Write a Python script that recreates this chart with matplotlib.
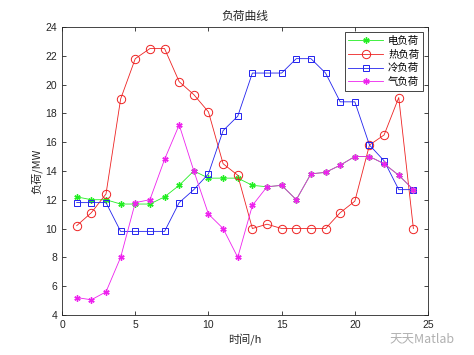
import matplotlib
matplotlib.use("Agg")
import matplotlib.pyplot as plt

plt.rcParams['font.family'] = ['Noto Sans CJK SC', 'DejaVu Sans']

hours = list(range(1, 25))
elec = [12.2, 12.0, 12.0, 11.7, 11.7, 11.7, 12.2, 13.0, 14.0, 13.5, 13.5, 13.5,
        13.0, 12.9, 13.0, 12.0, 13.8, 13.9, 14.4, 15.0, 15.0, 14.5, 13.7, 12.7]
heat = [10.2, 11.1, 12.4, 19.0, 21.8, 22.5, 22.5, 20.2, 19.3, 18.1, 14.5, 13.7,
        10.0, 10.3, 10.0, 10.0, 10.0, 10.0, 11.1, 11.9, 15.8, 16.5, 19.1, 10.0]
cold = [11.8, 11.8, 11.8, 9.8, 9.8, 9.8, 9.8, 11.8, 12.7, 13.8, 16.8, 17.8,
        20.8, 20.8, 20.8, 21.8, 21.8, 20.8, 18.8, 18.8, 15.8, 14.7, 12.7, 12.7]
gas = [5.2, 5.05, 5.6, 8.0, 11.8, 12.0, 14.8, 17.2, 14.0, 11.0, 10.0, 8.0,
       11.6, 12.9, 13.0, 12.0, 13.8, 13.9, 14.4, 15.0, 15.0, 14.5, 13.7, 12.7]

star = (6, 2, 0)

fig = plt.figure(figsize=(4.74, 3.55), dpi=100)
ax = fig.add_axes([0.131, 0.113, 0.772, 0.811])

ax.plot(hours, elec, color='#22ee22', marker=star, ms=4.5, lw=0.6, label='电负荷')
ax.plot(hours, heat, color='#ee2222', marker='o', ms=6, mfc='none', mew=0.7, lw=0.6, label='热负荷')
ax.plot(hours, cold, color='#2222ee', marker='s', ms=4.5, mfc='none', mew=0.7, lw=0.6, label='冷负荷')
ax.plot(hours, gas, color='#ee22ee', marker=star, ms=4.5, lw=0.6, label='气负荷')

ax.set_xlim(0, 25)
ax.set_ylim(4, 24)
ax.set_xticks([0, 5, 10, 15, 20, 25])
ax.set_yticks(range(4, 25, 2))
ax.tick_params(direction='in', top=True, right=True, labelsize=7.5,
               colors='#262626', length=3, width=0.6)
for lab in ax.get_xticklabels() + ax.get_yticklabels():
    lab.set_family(['Liberation Sans', 'DejaVu Sans'])
for s in ax.spines.values():
    s.set_color('#262626')
    s.set_linewidth(0.6)

ax.set_title('负荷曲线', fontsize=8.5, color='#262626', pad=5)
ax.set_xlabel('时间/h', fontsize=8, color='#262626', labelpad=2)
ax.set_ylabel('负荷/MW', fontsize=8, color='#262626', labelpad=2)

leg = ax.legend(loc='upper right', fontsize=7.5, fancybox=False, framealpha=1,
                edgecolor='#262626', borderpad=0.35, labelspacing=0.35,
                handlelength=3.3, handletextpad=0.5, borderaxespad=0.5)
leg.get_frame().set_linewidth(0.6)

fig.text(0.89, 0.035, '天天Matlab', fontsize=9, color='#b0b0b0', ha='center')

fig.savefig('out.png', dpi=100)
